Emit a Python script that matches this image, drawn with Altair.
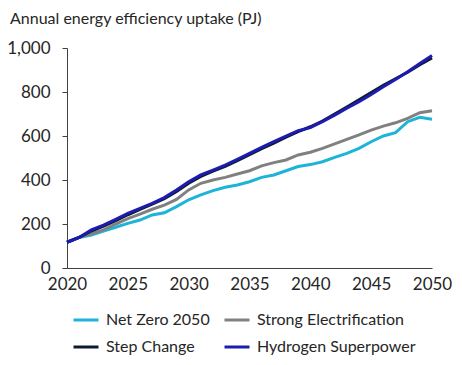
import altair as alt
import pandas as pd

years = list(range(2020, 2051))

net_zero = [117, 139, 150, 168, 185, 203, 218, 241, 251, 279, 310, 332, 352, 367, 377, 392,
            412, 423, 442, 461, 470, 483, 503, 521, 544, 574, 600, 615, 665, 685, 676]
strong_elec = [117, 139, 155, 173, 200, 224, 245, 267, 286, 312, 355, 385, 400, 412, 427, 442,
               464, 479, 491, 514, 526, 544, 564, 585, 605, 627, 645, 660, 680, 706, 715]
step_change = [117, 139, 168, 190, 215, 242, 266, 290, 315, 348, 385, 416, 440, 462, 488, 515,
               542, 568, 595, 620, 642, 668, 700, 732, 764, 797, 830, 860, 890, 924, 955]
hydrogen = [117, 139, 173, 195, 221, 248, 271, 294, 320, 355, 392, 423, 445, 468, 494, 521,
            548, 574, 600, 624, 638, 665, 695, 726, 756, 789, 824, 857, 892, 930, 966]

series_names = ["Net Zero 2050", "Strong Electrification", "Step Change", "Hydrogen Superpower"]
series_values = [net_zero, strong_elec, step_change, hydrogen]
series_colors = ["#1cb4d8", "#808080", "#0d1a30", "#1c1cb0"]

# legend fills column by column: order entries so rows read as in the reference
legend_order = ["Net Zero 2050", "Step Change", "Strong Electrification", "Hydrogen Superpower"]
legend_colors = [series_colors[series_names.index(n)] for n in legend_order]

rows = []
for k, (name, vals) in enumerate(zip(series_names, series_values)):
    for y, v in zip(years, vals):
        rows.append({"Year": y, "Value": v, "Scenario": name, "order": k})
df = pd.DataFrame(rows)

font = "Lato"
txt = "#262626"

chart = alt.Chart(df).mark_line(strokeWidth=3).encode(
    x=alt.X("Year:Q",
            scale=alt.Scale(domain=[2020, 2050], nice=False, zero=False),
            axis=alt.Axis(values=list(range(2020, 2051, 5)), format="d", title=None,
                          ticks=False, grid=False, labelFontSize=17, labelColor=txt,
                          labelPadding=8, labelFlush=False, labelOverlap=False,
                          domainColor="#404040", labelFont=font)),
    y=alt.Y("Value:Q",
            scale=alt.Scale(domain=[0, 1000], nice=False),
            axis=alt.Axis(values=list(range(0, 1001, 200)), format=",d", title=None,
                          ticks=True, tickSize=5, tickColor="#404040", grid=False,
                          labelFontSize=17, labelColor=txt, labelPadding=12,
                          labelFlush=False, labelOverlap=False,
                          domainColor="#404040", labelFont=font)),
    color=alt.Color("Scenario:N",
                    scale=alt.Scale(domain=legend_order, range=legend_colors),
                    legend=alt.Legend(title=None, orient="none", legendX=5, legendY=258,
                                      columns=2, symbolType="stroke", symbolSize=625,
                                      symbolStrokeWidth=3, labelFontSize=16,
                                      labelColor=txt, labelFont=font, labelLimit=300,
                                      labelOffset=6, columnPadding=8, rowPadding=5)),
    order=alt.Order("order:Q"),
    detail="Scenario:N",
).properties(
    width=365,
    height=220,
    title=alt.TitleParams("Annual energy efficiency uptake (PJ)", anchor="start",
                          frame="group", fontSize=16, fontWeight="normal", font=font,
                          color=txt, dx=-57, offset=12),
    autosize=alt.AutoSizeParams(type="none"),
    padding={"left": 59, "top": 40, "right": 22, "bottom": 89},
).configure_view(stroke=None)

chart.save("out.html", embed_options={"renderer": "svg", "actions": False})
